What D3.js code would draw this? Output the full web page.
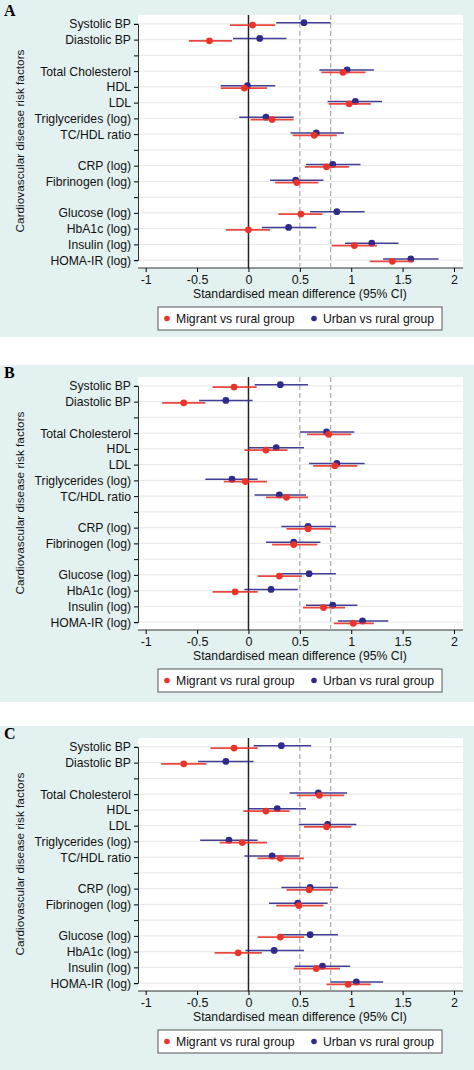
<!DOCTYPE html><html><head><meta charset="utf-8">
<script src="https://cdn.jsdelivr.net/npm/d3@7"></script>
<style>body{margin:0;background:#fff}svg{display:block;font-family:"Liberation Sans",Arial,sans-serif}</style></head><body>
<script>
const rows=["Systolic BP","Diastolic BP","","Total Cholesterol","HDL","LDL","Triglycerides (log)","TC/HDL ratio","","CRP (log)","Fibrinogen (log)","","Glucose (log)","HbA1c (log)","Insulin (log)","HOMA-IR (log)"];
const factors=rows.filter(r=>r);
const panels=["A","B","C"];
const xTicks=[-1,-0.5,0,0.5,1,1.5,2];
const xTickLabels=["-1","-0.5","0","0.5","1","1.5","2"];
// [point, lo, hi] per factor
const migrantA=[[0.04,-0.18,0.26],[-0.38,-0.58,-0.16],[0.92,0.71,1.14],[-0.04,-0.27,0.18],[0.98,0.78,1.19],[0.23,0.02,0.44],[0.64,0.43,0.86],[0.76,0.55,0.98],[0.47,0.26,0.68],[0.51,0.29,0.72],[0.0,-0.22,0.21],[1.03,0.81,1.25],[1.40,1.18,1.61]];
const urbanA=[[0.54,0.27,0.80],[0.11,-0.15,0.37],[0.96,0.69,1.22],[-0.01,-0.27,0.26],[1.04,0.77,1.30],[0.17,-0.09,0.44],[0.66,0.41,0.93],[0.82,0.56,1.09],[0.46,0.21,0.73],[0.86,0.60,1.13],[0.39,0.13,0.66],[1.20,0.94,1.46],[1.58,1.31,1.85]];
const migrantB=[[-0.14,-0.35,0.08],[-0.63,-0.84,-0.42],[0.78,0.57,1.0],[0.17,-0.04,0.38],[0.84,0.63,1.06],[-0.03,-0.24,0.18],[0.37,0.17,0.58],[0.58,0.37,0.80],[0.44,0.23,0.67],[0.30,0.09,0.52],[-0.13,-0.35,0.09],[0.73,0.53,0.94],[1.02,0.83,1.22]];
const urbanB=[[0.31,0.06,0.58],[-0.22,-0.48,0.04],[0.76,0.50,1.03],[0.27,0.0,0.54],[0.86,0.59,1.13],[-0.16,-0.42,0.09],[0.30,0.06,0.56],[0.58,0.32,0.85],[0.44,0.17,0.70],[0.59,0.32,0.85],[0.22,-0.04,0.48],[0.82,0.56,1.06],[1.11,0.87,1.36]];
const migrantC=[[-0.14,-0.37,0.09],[-0.63,-0.85,-0.41],[0.69,0.47,0.93],[0.17,-0.05,0.40],[0.76,0.54,1.0],[-0.06,-0.28,0.18],[0.31,0.09,0.54],[0.59,0.37,0.82],[0.49,0.27,0.73],[0.31,0.09,0.54],[-0.10,-0.33,0.13],[0.66,0.44,0.89],[0.97,0.76,1.19]];
const urbanC=[[0.32,0.05,0.61],[-0.22,-0.49,0.05],[0.68,0.40,0.96],[0.28,0.0,0.56],[0.77,0.49,1.05],[-0.19,-0.47,0.09],[0.23,-0.04,0.50],[0.60,0.32,0.87],[0.48,0.20,0.77],[0.60,0.32,0.87],[0.25,-0.03,0.54],[0.72,0.45,0.99],[1.05,0.80,1.31]];
const series=[[migrantA,urbanA],[migrantB,urbanB],[migrantC,urbanC]];
const legendLabels=["Migrant vs rural group","Urban vs rural group"];
const RED="#e8342b",BLUE="#2f2b8a";

const svg=d3.select("body").append("svg").attr("width",474).attr("height",1070);
const offsets=[0,362,723];
const x=d3.scaleLinear().domain([-1,2]).range([145.7,454]);
panels.forEach((p,pi)=>{
  const oy=offsets[pi];
  const g=svg.append("g").attr("transform",`translate(0,${oy})`);
  g.append("rect").attr("x",0).attr("y",pi==0?0:3).attr("width",474).attr("height",pi==2?347:337).attr("fill","#e3f1f0");
  g.append("rect").attr("x",138).attr("y",15).attr("width",325).attr("height",253).attr("fill","#fff");
  g.append("text").attr("x",4).attr("y",16).attr("font-family","Liberation Serif,serif").attr("font-weight","bold").attr("font-size",16).text(p);
  const y=d3.scaleBand().domain(rows.map((r,i)=>i)).range([16.5,268.5]).paddingInner(0).paddingOuter(0);
  const yc=i=>y(i)+y.bandwidth()/2-0.5;
  rows.forEach((r,i)=>{
    g.append("line").attr("x1",138).attr("x2",463).attr("y1",yc(i)).attr("y2",yc(i)).attr("stroke","#e6e6e6").attr("stroke-width",1);
  });
  const yAxis=d3.axisLeft(d3.scalePoint().domain(rows.map((r,i)=>i)).range([yc(0),yc(rows.length-1)])).tickFormat(i=>rows[i]).tickSize(4);
  const ya=g.append("g").attr("transform","translate(138,0)").call(yAxis);
  ya.select(".domain").attr("stroke","#333");
  ya.selectAll("text").attr("font-size",12.2).attr("fill","#111");
  const xa=g.append("g").attr("transform","translate(0,268)").call(d3.axisBottom(x).tickValues(xTicks).tickFormat((d,i)=>xTickLabels[i]).tickSize(4));
  xa.select(".domain").attr("d","M138,0H463").attr("stroke","#333");
  xa.selectAll("text").attr("font-size",12.5).attr("fill","#111");
  g.append("text").attr("x",300).attr("y",298).attr("text-anchor","middle").attr("font-size",12.2).attr("fill","#111").text("Standardised mean difference (95% CI)");
  g.append("text").attr("transform",`translate(24,141) rotate(-90)`).attr("text-anchor","middle").attr("font-size",11.8).attr("fill","#111").text("Cardiovascular disease risk factors");
  [0.5,0.8].forEach(v=>g.append("line").attr("x1",x(v)).attr("x2",x(v)).attr("y1",15).attr("y2",268).attr("stroke","#aaa").attr("stroke-width",1.2).attr("stroke-dasharray","5,3"));
  g.append("line").attr("x1",x(0)).attr("x2",x(0)).attr("y1",15).attr("y2",268).attr("stroke","#222").attr("stroke-width",1.5);
  const rowIdx=factors.map(f=>rows.indexOf(f));
  const [mig,urb]=series[pi];
  [[urb,BLUE,-1.2],[mig,RED,1.2]].forEach(([data,col,dy])=>{
    data.forEach((d,k)=>{
      const yy=yc(rowIdx[k])+dy;
      g.append("line").attr("x1",x(d[1])).attr("x2",x(d[2])).attr("y1",yy).attr("y2",yy).attr("stroke",col).attr("stroke-width",1.6).attr("opacity",0.9);
      g.append("circle").attr("cx",x(d[0])).attr("cy",yy).attr("r",3.4).attr("fill",col);
    });
  });
  const lg=g.append("g");
  lg.append("rect").attr("x",158).attr("y",307).attr("width",284).attr("height",23).attr("fill","#fff").attr("stroke","#555");
  [[RED,167,legendLabels[0]],[BLUE,314,legendLabels[1]]].forEach(([c,lx,t])=>{
    lg.append("circle").attr("cx",lx).attr("cy",318.5).attr("r",2.8).attr("fill",c);
    lg.append("text").attr("x",lx+9).attr("y",323).attr("font-size",12.2).attr("fill","#111").text(t);
  });
});
</script></body></html>
